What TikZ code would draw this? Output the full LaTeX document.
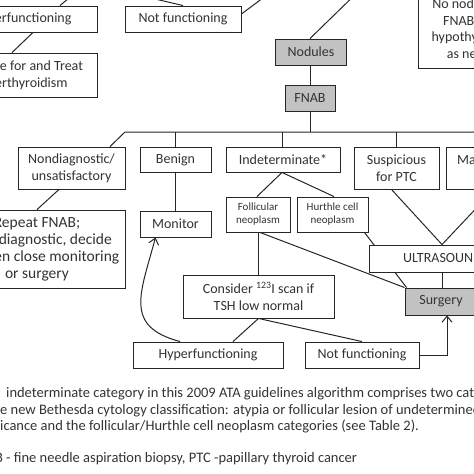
\documentclass[tikz,border=0pt]{standalone}
\usepackage{fontspec}
\setmainfont{Carlito}
\usetikzlibrary{arrows.meta,backgrounds}

\tikzset{
  box/.style={draw=black!85, line width=0.9pt, fill=white, text=black!80,
    font=\fontsize{14}{17}\selectfont, align=center, inner sep=0pt},
  greybox/.style={box, fill=black!24},
  smallbox/.style={box, font=\fontsize{11}{13}\selectfont},
  link/.style={line width=1pt, black!85},
  caption/.style={anchor=base west, inner sep=0pt, text=black!80,
    font=\fontsize{14.5}{17}\selectfont},
}

\begin{document}
\begin{tikzpicture}[x=1pt, y=-1pt]
    \useasboundingbox (0,0) rectangle (474,474);

    % upper branch (cut off at the top)
    \coordinate (upsplit) at (87,-17);
    \coordinate (upright) at (279,-14);
    \coordinate (upnod) at (367,-17);
    \node [box, minimum width=150, minimum height=26] (hyp1) at (22,19) {Hyperfunctioning};
    \node [box, minimum width=116, minimum height=26] (notf1) at (183,19) {Not functioning};
    \node [box, minimum width=152, minimum height=44] (treat) at (21,75) {Evaluate for and Treat\\hyperthyroidism};

    % no nodules (cut off at the right)
    \node [box, font=\fontsize{14}{16.5}\selectfont, minimum width=116, minimum height=79] (nonod) at (476,28.5)
        {No nodules: no\\FNAB: treat\\hypothyroidism\\as needed};

    % Nodules, FNAB
    \node [greybox, minimum width=71, minimum height=26] (nodules) at (311,52) {Nodules};
    \node [greybox, minimum width=50, minimum height=26] (fnab) at (310,98) {FNAB};

    % cytology results
    \coordinate (busl) at (125,132);
    \coordinate (busr) at (486,132);
    \node [box, minimum width=107, minimum height=42] (nondiag) at (71.5,168) {Nondiagnostic/\\unsatisfactory};
    \node [box, minimum width=71, minimum height=25] (benign) at (175.5,159.5) {Benign};
    \node [box, minimum width=114, minimum height=25] (indet) at (283,159.5) {Indeterminate*};
    \node [box, minimum width=85, minimum height=42] (susp) at (396.5,168) {Suspicious\\for PTC};
    \node [box, minimum width=80, minimum height=42] (malig) at (486,168) {Malignant\\\mbox{}};

    % follow-up
    \node [box, font=\fontsize{15.5}{17}\selectfont, minimum width=176, minimum height=78] (repeat) at (37,249)
        {Repeat FNAB;\\If nondiagnostic, decide\\between close monitoring\\or surgery};
    \node [box, minimum width=71, minimum height=26] (monitor) at (175.5,224) {Monitor};
    \node [smallbox, minimum width=64, minimum height=35] (foll) at (258,214.5) {Follicular\\neoplasm};
    \node [smallbox, minimum width=71, minimum height=35] (hurthle) at (332.5,214.5) {Hurthle cell\\neoplasm};
    \node [box, minimum width=151, minimum height=43] (scan) at (258.5,296.5)
        {Consider \textsuperscript{123}I scan if\\TSH low normal};
    \node [box, minimum width=147, minimum height=27] (ultra) at (442.5,258.5) {ULTRASOUND};
    \node [greybox, minimum width=72, minimum height=27] (surgery) at (441,301.5) {Surgery};
    \node [box, minimum width=150, minimum height=26] (hyp2) at (208,355) {Hyperfunctioning};
    \node [box, minimum width=114, minimum height=26] (notf2) at (362,355) {Not functioning};

    % connectors (behind the boxes)
    \begin{scope}[on background layer]
        \draw [link] (upsplit) -- ([xshift=38]hyp1.north);
        \draw [link] (upsplit) -- (notf1.north);
        \draw [link] (upright) -- ([yshift=5]notf1.east);
        \draw [link] ([xshift=11]hyp1.south) -- ([xshift=-9]treat.north);
        \draw [link] (upnod) -- ([xshift=-1]nodules.north);
        \draw [link] (fnab.north |- nodules.south) -- (fnab.north);
        \draw [link] (fnab.south) -- (fnab.south |- busl);
        \draw [link] ([xshift=38.5]nondiag.north) -- (busl) -- (busr) -- (malig.north);
        \draw [link] (benign.north) -- (benign.north |- busl);
        \draw [link] ([xshift=-1]indet.north) -- ([xshift=-1]indet.north |- busl);
        \draw [link] (susp.north) -- (susp.north |- busl);
        \draw [link] ([xshift=-12.5]nondiag.south) -- (repeat.north);
        \draw [link] (benign) -- (monitor);
        \draw [link] ([xshift=-1]indet.south) -- ([xshift=-1]foll.north);
        \draw [link] ([xshift=-1]indet.south) -- ([xshift=1.5]hurthle.north);
        \draw [link] (foll.south) -- (foll.south |- scan.north);
        \draw [link] ([xshift=2]foll.south) -- (surgery.north west);
        \draw [link] ([xshift=32]hurthle.south) -- ([xshift=2]surgery.north west);
        \draw [link] ([xshift=-5]susp.south) -- ([xshift=-0.5]ultra.north);
        \draw [link] ([xshift=8]malig.south) -- ([xshift=-0.5]ultra.north);
        \draw [link] (ultra.south) -- (ultra.south |- surgery.north);
        \draw [link] (scan.south) -- ([xshift=25]hyp2.north);
        \draw [link] (scan.south) -- (notf2.north);
    \end{scope}

    % arrows
    \draw [link, -{Straight Barb[length=6pt, width=10pt]}] (notf2.east) -| ([xshift=6]surgery.south);
    \draw [link, -{Straight Barb[length=6pt, width=10pt]}] ([xshift=-28]hyp2.north)
        to [out=165, in=-105, looseness=1.4] ([xshift=-20]monitor.south);

    % note below
    \node [caption] (note1) at (6,397) {\llap{*The\ \ }indeterminate category in this 2009 ATA guidelines algorithm comprises two categories in};
    \node [caption] (note2) at (0,414) {\llap{th}e new Bethesda cytology classification: atypia or follicular lesion of undetermined};
    \node [caption] (note3) at (0,430) {\llap{signif}icance and the follicular/Hurthle cell neoplasm categories (see Table 2).};
    \node [caption] (note4) at (6,462) {\llap{FNAB }- fine needle aspiration biopsy, PTC -papillary thyroid cancer};
\end{tikzpicture}
\end{document}
